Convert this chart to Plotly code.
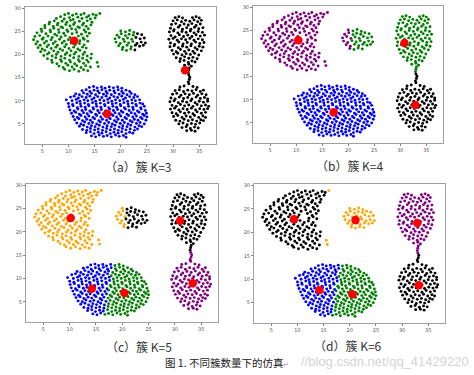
import plotly.graph_objects as go
import numpy as np

# ---------------- data (data units) ----------------
crescent = """
9.3,28.6 10.0,28.9 10.8,28.5 11.5,28.8 12.4,28.6 13.0,28.9 13.9,28.4 14.7,28.7 15.3,28.5 16.0,28.9
7.7,27.8 8.5,28.2 9.2,27.7 10.2,28.0 10.9,27.6 11.8,28.1 12.6,27.8 13.5,28.1 14.2,27.7 15.1,27.9
6.4,27.0 7.3,27.3 8.0,26.8 8.8,27.2 9.7,27.0 10.4,27.4 11.2,26.9 12.1,27.2 12.9,26.8 13.6,27.3 14.5,27.0
5.5,26.3 6.3,26.6 7.1,26.1 7.9,26.4 8.6,26.0 9.5,26.5 10.3,26.2 11.0,26.5 11.8,26.0 12.7,26.4 13.4,26.1 14.3,26.4
4.8,25.5 5.5,25.8 6.5,25.3 7.2,25.7 8.1,25.4 8.9,25.8 9.7,25.3 10.6,25.6 11.4,25.4 12.1,25.8 13.0,25.3 13.8,25.6
4.0,24.7 4.9,25.0 5.7,24.5 6.6,24.9 7.4,24.4 8.2,24.8 9.1,24.6 9.9,25.0 10.7,24.5 11.6,24.8 12.5,24.4 13.3,24.9 14.0,24.6
3.6,23.9 4.5,24.1 5.2,23.6 6.1,24.0 6.9,23.7 7.8,24.1 8.6,23.8 9.4,24.1 10.3,23.7 11.9,24.0 12.8,23.6 13.6,24.0
3.35,23.2 4.1,22.8 5.0,23.3 5.8,22.9 6.7,23.2 7.5,22.8 8.3,23.3 9.2,22.9 10.0,23.2 12.2,23.0 13.0,23.3 13.7,22.9
3.8,22.3 4.6,22.0 5.4,22.5 6.2,22.1 7.1,22.4 7.9,22.0 8.8,22.5 9.6,22.2 10.5,22.5 11.3,22.1 12.1,22.4 13.0,22.1
4.2,21.5 5.0,21.2 5.9,21.7 6.7,21.3 7.6,21.6 8.4,21.2 9.3,21.7 10.1,21.3 11.0,21.6 11.8,21.2 12.7,21.6 13.4,21.4
4.7,20.6 5.5,20.9 6.3,20.4 7.2,20.8 8.0,20.5 8.9,20.9 9.7,20.4 10.5,20.8 11.4,20.5 12.2,20.9 13.1,20.5
5.3,19.8 6.0,20.1 6.9,19.7 7.7,20.0 8.6,19.6 9.4,20.0 10.3,19.8 11.1,20.1 12.0,19.6 12.8,20.0 13.6,19.7 14.4,20.1
6.0,19.1 6.8,18.8 7.6,19.3 8.5,18.9 9.3,19.2 10.2,18.8 11.0,19.3 11.9,18.9 12.7,19.2 13.5,18.8 14.3,19.2
6.9,18.3 7.8,18.0 8.7,18.5 9.5,18.1 10.4,18.4 11.2,18.0 12.1,18.5 12.9,18.1 13.8,18.4 15.5,18.3
8.2,17.5 9.0,17.2 9.9,17.7 10.7,17.3 11.6,17.6 12.4,17.2 13.3,17.6 14.2,17.3 15.7,17.4
9.3,16.8 10.2,16.5 11.1,16.8 12.0,16.4 12.9,16.7 13.7,16.5
"""

small_blob = """
20.0,25.1 20.9,24.9 21.7,25.2 22.5,24.8
19.3,24.2 20.1,24.5 20.9,24.1 21.6,24.4 22.4,24.2 23.2,24.5 24.0,24.3
18.9,23.4 19.7,23.7 20.5,23.3 21.3,23.6 22.1,23.3 22.9,23.7 23.7,23.4 24.5,23.6
19.1,22.7 19.9,22.4 20.7,22.8 21.5,22.5 22.3,22.8 23.1,22.4 23.9,22.7 24.7,22.5
19.6,21.9 20.4,21.6 21.2,22.0 22.0,21.7 22.8,22.0 23.6,21.8 24.3,22.0
20.3,21.1 21.1,20.9 21.9,21.2 22.7,21.0
"""

top_right = """
30.4,28.0 31.1,28.2 31.8,27.9 33.7,28.0 34.4,28.2 35.0,27.9
30.0,27.3 30.8,27.5 31.6,27.1 32.4,27.4 33.2,27.2 34.0,27.5 34.7,27.1 35.4,27.4
29.7,26.5 30.5,26.7 31.3,26.3 32.1,26.6 32.9,26.4 33.6,26.7 34.4,26.3 35.2,26.6
29.5,25.7 30.2,25.4 31.0,25.9 31.8,25.5 32.6,25.8 33.4,25.5 34.1,25.9 34.9,25.6 35.7,25.8
29.3,24.9 30.1,25.1 30.9,24.7 31.7,25.0 32.5,24.8 33.3,25.1 34.0,24.7 34.8,25.0 35.6,24.8
29.6,24.1 30.4,23.8 31.2,24.3 32.0,23.9 32.8,24.2 33.6,23.9 34.4,24.3 35.2,24.0 36.0,24.2
29.2,23.3 30.0,23.5 30.8,23.1 31.6,23.4 32.4,23.2 33.2,23.5 34.0,23.1 34.8,23.4 35.6,23.2
29.5,22.5 30.3,22.2 31.1,22.7 31.9,22.3 32.7,22.6 33.5,22.3 34.3,22.7 35.1,22.4 35.9,22.6
29.4,21.7 30.2,21.9 31.0,21.5 31.8,21.8 32.6,21.6 33.4,21.9 34.2,21.5 35.0,21.8 35.7,21.6
29.8,20.9 30.6,20.6 31.4,21.1 32.2,20.7 33.0,21.0 33.8,20.7 34.6,21.1 35.4,20.8
30.1,20.1 30.9,20.3 31.7,19.9 32.5,20.2 33.3,20.0 34.1,20.3 34.9,19.9
30.6,19.3 31.4,19.1 32.2,19.5 33.0,19.2 33.8,19.4 34.6,19.1
31.3,18.5 32.1,18.7 32.9,18.3 33.6,18.6 34.2,18.4
32.2,17.7 33.0,17.9 33.5,17.5
"""

bridge = """
33.1,17.1 33.0,16.6 32.9,16.1 33.0,15.6 33.2,15.1 33.1,14.6 32.9,14.1 33.0,13.7
"""

bottom_right = """
31.3,13.0 32.1,13.2 33.8,13.1 34.6,12.9
30.4,12.2 31.2,12.4 32.0,12.0 32.8,12.3 33.6,12.1 34.4,12.4 35.2,12.0 35.8,12.3
29.9,11.4 30.7,11.6 31.5,11.2 32.3,11.5 33.1,11.3 33.9,11.6 34.7,11.2 35.5,11.5 36.3,11.3
29.6,10.6 30.4,10.4 31.2,10.8 32.0,10.5 32.8,10.7 33.6,10.4 34.4,10.8 35.2,10.5 36.0,10.7 36.6,10.4
29.4,9.8 30.2,10.0 31.0,9.6 31.8,9.9 32.6,9.7 33.4,10.0 34.2,9.6 35.0,9.9 35.8,9.7 36.6,9.9
29.8,9.0 30.6,8.8 31.4,9.2 32.2,8.9 33.0,9.1 33.8,8.8 34.6,9.2 35.4,8.9 36.2,9.1 36.8,8.8
29.5,8.2 30.3,8.4 31.1,8.0 31.9,8.3 32.7,8.1 33.5,8.4 34.3,8.0 35.1,8.3 35.9,8.1 36.6,8.3
29.8,7.4 30.6,7.2 31.4,7.6 32.2,7.3 33.0,7.5 33.8,7.2 34.6,7.6 35.4,7.3 36.2,7.5
30.1,6.6 30.9,6.8 31.7,6.4 32.5,6.7 33.3,6.5 34.1,6.8 34.9,6.4 35.7,6.7 36.2,6.4
30.5,5.8 31.3,5.6 32.1,6.0 32.9,5.7 33.7,5.9 34.5,5.6 35.3,5.9 35.8,5.7
31.1,5.0 31.9,5.2 32.7,4.8 33.5,5.1 34.3,4.9 35.1,5.2
31.7,4.2 32.5,4.4 33.3,4.0 34.1,4.3 34.8,4.1
32.6,3.5 33.5,3.6 34.2,3.4
"""

ellipse = """
14.0,12.9 14.8,13.1 15.5,12.8 16.3,13.0 17.0,12.7 17.8,13.0 18.6,12.8 19.4,13.0 20.2,12.7
12.6,12.2 13.4,12.4 14.1,12.0 14.9,12.3 15.6,12.1 16.4,12.4 17.2,12.0 17.9,12.3 18.7,12.1 19.5,12.4 20.2,12.0 21.0,12.3 21.7,12.0
11.4,11.5 12.1,11.3 12.9,11.7 13.6,11.4 14.4,11.6 15.2,11.3 15.9,11.7 16.7,11.4 17.4,11.6 18.2,11.3 18.9,11.7 19.7,11.4 20.5,11.6 21.2,11.3 22.0,11.6 22.7,11.3
10.4,10.8 11.1,11.0 11.9,10.6 12.6,10.9 13.4,10.7 14.1,11.0 14.9,10.6 15.6,10.9 16.4,10.7 17.2,11.0 17.9,10.6 18.7,10.9 19.4,10.7 20.2,11.0 20.9,10.6 21.7,10.9 22.5,10.7 23.2,10.9
9.6,10.2 10.7,10.0 11.5,10.3 12.2,9.9 13.0,10.2 13.7,10.0 14.5,10.3 15.2,9.9 16.0,10.2 16.8,10.0 17.5,10.3 18.3,9.9 19.0,10.2 19.8,10.0 20.5,10.3 21.3,9.9 22.1,10.2 22.8,10.0 23.6,10.2
10.0,9.4 10.8,9.2 11.6,9.6 12.3,9.3 13.1,9.5 13.8,9.2 14.6,9.6 15.3,9.3 16.1,9.5 16.9,9.2 17.6,9.6 18.4,9.3 19.1,9.5 19.9,9.2 20.6,9.6 21.4,9.3 22.2,9.5 22.9,9.2 23.7,9.5 24.2,9.3
10.1,8.7 10.9,8.9 11.7,8.5 12.4,8.8 13.2,8.6 13.9,8.9 14.7,8.5 15.4,8.8 16.2,8.6 17.0,8.9 17.7,8.5 18.5,8.8 19.2,8.6 20.0,8.9 20.7,8.5 21.5,8.8 22.3,8.6 23.0,8.9 23.8,8.5 24.5,8.8
10.3,8.0 11.1,7.8 11.8,8.2 12.6,7.9 13.3,8.1 14.1,7.8 14.8,8.2 15.6,7.9 16.3,8.1 17.1,7.8 17.9,8.2 18.6,7.9 19.4,8.1 20.1,7.8 20.9,8.2 21.6,7.9 22.4,8.1 23.2,7.8 23.9,8.2 24.7,7.9
10.6,7.3 11.4,7.5 12.1,7.1 12.9,7.4 13.6,7.2 14.4,7.5 15.2,7.1 15.9,7.4 16.7,7.2 17.4,7.5 18.2,7.1 18.9,7.4 19.7,7.2 20.4,7.5 21.2,7.1 22.0,7.4 22.7,7.2 23.5,7.5 24.2,7.1 24.9,7.3
10.9,6.6 11.7,6.4 12.4,6.8 13.2,6.5 13.9,6.7 14.7,6.4 15.4,6.8 16.2,6.5 17.0,6.7 17.7,6.4 18.5,6.8 19.2,6.5 20.0,6.7 20.8,6.4 21.5,6.8 22.3,6.5 23.0,6.7 23.8,6.4 24.5,6.8 25.0,6.5
11.2,5.9 12.0,6.1 12.7,5.7 13.5,6.0 14.2,5.8 15.0,6.1 15.8,5.7 16.5,6.0 17.3,5.8 18.0,6.1 18.8,5.7 19.5,6.0 20.3,5.8 21.1,6.1 21.8,5.7 22.6,6.0 23.3,5.8 24.1,6.1 24.8,5.8
11.6,5.2 12.4,5.0 13.1,5.4 13.9,5.1 14.6,5.3 15.4,5.0 16.1,5.4 16.9,5.1 17.7,5.3 18.4,5.0 19.2,5.4 19.9,5.1 20.7,5.3 21.4,5.0 22.2,5.4 23.0,5.1 23.7,5.3 24.5,5.0
12.1,4.5 12.9,4.7 13.6,4.3 14.4,4.6 15.1,4.4 15.9,4.7 16.6,4.3 17.4,4.6 18.2,4.4 18.9,4.7 19.7,4.3 20.4,4.6 21.2,4.4 21.9,4.7 22.7,4.3 23.5,4.6 24.0,4.4
12.7,3.8 13.5,3.6 14.2,4.0 15.0,3.7 15.7,3.9 16.5,3.6 17.3,4.0 18.0,3.7 18.8,3.9 19.5,3.6 20.3,4.0 21.0,3.7 21.8,3.9 22.6,3.6 23.2,3.9
13.4,3.1 14.2,3.3 14.9,2.9 15.7,3.2 16.4,3.0 17.2,3.3 18.0,2.9 18.7,3.2 19.5,3.0 20.2,3.3 21.0,2.9 21.7,3.2 22.3,3.0
14.4,2.4 15.2,2.2 15.9,2.6 16.7,2.3 17.4,2.5 18.2,2.2 19.0,2.6 19.7,2.3 20.5,2.5 21.0,2.1
"""

# centroids (x, y) and colours per panel
cent_a = [(11.1, 23.0), (17.4, 7.2), (32.3, 16.6)]
col_a = ["green", "blue", "black"]
cent_b = [(10.4, 22.9), (30.8, 22.3), (32.9, 8.9), (17.2, 7.3)]
col_b = ["purple", "green", "black", "blue"]
cent_c = [(10.2, 23.0), (31.0, 22.4), (33.4, 9.0), (14.2, 7.8), (20.4, 6.9)]
col_c = ["orange", "black", "purple", "blue", "green"]
cent_d = [(9.35, 22.8), (21.1, 22.6), (32.9, 22.0), (33.2, 8.7), (14.2, 7.7), (20.5, 6.8)]
col_d = ["black", "orange", "purple", "black", "blue", "green"]

captions = ["（a）簇 K=3", "（b）簇 K=4", "（c）簇 K=5", "（d）簇 K=6"]
x_ticks = [5, 10, 15, 20, 25, 30, 35]
y_ticks = [5, 10, 15, 20, 25, 30]


def parse(s):
    return [tuple(float(v) for v in p.split(",")) for p in s.split()]


pts = np.array(parse(crescent) + parse(small_blob) + parse(top_right)
               + parse(bridge) + parse(bottom_right) + parse(ellipse))
X, Y = pts[:, 0], pts[:, 1]

panels = [
    (cent_a, col_a, [0.0527, 0.4557], [0.6187, 0.9867]),
    (cent_b, col_b, [0.5338, 0.9346], [0.6213, 0.9893]),
    (cent_c, col_c, [0.0549, 0.4599], [0.1413, 0.5120]),
    (cent_d, col_d, [0.5359, 0.9388], [0.1387, 0.5120]),
]

fig = go.Figure()
axis_common = dict(showline=True, mirror=True, linecolor="#a0a0a0", linewidth=1,
                   ticks="outside", ticklen=2, tickcolor="#808080",
                   tickfont=dict(size=5, color="#555555", family="DejaVu Sans"),
                   showgrid=False, zeroline=False, fixedrange=True)

for i, (cents, cols, xd, yd) in enumerate(panels):
    n = "" if i == 0 else str(i + 1)
    C = np.array(cents)
    d = (X[:, None] - C[None, :, 0]) ** 2 + (Y[:, None] - C[None, :, 1]) ** 2
    lab = d.argmin(axis=1)
    for k, c in enumerate(cols):
        m = lab == k
        fig.add_trace(go.Scatter(x=X[m], y=Y[m], mode="markers",
                                 marker=dict(size=2.9, color=c, line=dict(width=0)),
                                 xaxis="x" + n, yaxis="y" + n, showlegend=False,
                                 hoverinfo="skip"))
    fig.add_trace(go.Scatter(x=C[:, 0], y=C[:, 1], mode="markers",
                             marker=dict(size=8.5, color="red", line=dict(width=0)),
                             xaxis="x" + n, yaxis="y" + n, showlegend=False,
                             hoverinfo="skip"))
    fig.layout["xaxis" + n] = dict(domain=xd, anchor="y" + n, range=[1.7, 38.2],
                                   tickvals=x_ticks, **axis_common)
    fig.layout["yaxis" + n] = dict(domain=yd, anchor="x" + n, range=[0.6, 30.3],
                                   tickvals=y_ticks, **axis_common)

cjk = "Noto Sans CJK SC"
ann = []
cap_pos = [(138, 165), (350, 164), (139, 346), (348, 345)]
for (cx, cy), t in zip(cap_pos, captions):
    ann.append(dict(x=cx / 474, y=1 - cy / 375, xref="paper", yref="paper",
                    text=t, showarrow=False, xanchor="center", yanchor="middle",
                    font=dict(family=cjk, size=12, color="#333333")))
ann.append(dict(x=163 / 474, y=1 - 362 / 375, xref="paper", yref="paper",
                text="图 1. 不同簇数量下的仿真<span style='font-size:7px;color:#999'>↵</span>",
                showarrow=False, xanchor="left", yanchor="middle",
                font=dict(family=cjk, size=10.5, color="#222222")))
ann.append(dict(x=299 / 474, y=1 - 361 / 375, xref="paper", yref="paper",
                text="//blog.csdn.net/qq_41429220", showarrow=False,
                xanchor="left", yanchor="middle",
                font=dict(family="Liberation Sans", size=13, color="#d4d4d4")))

fig.update_layout(width=474, height=375, margin=dict(l=0, r=0, t=0, b=0),
                  paper_bgcolor="white", plot_bgcolor="white", annotations=ann)
fig.write_html("out.html")
